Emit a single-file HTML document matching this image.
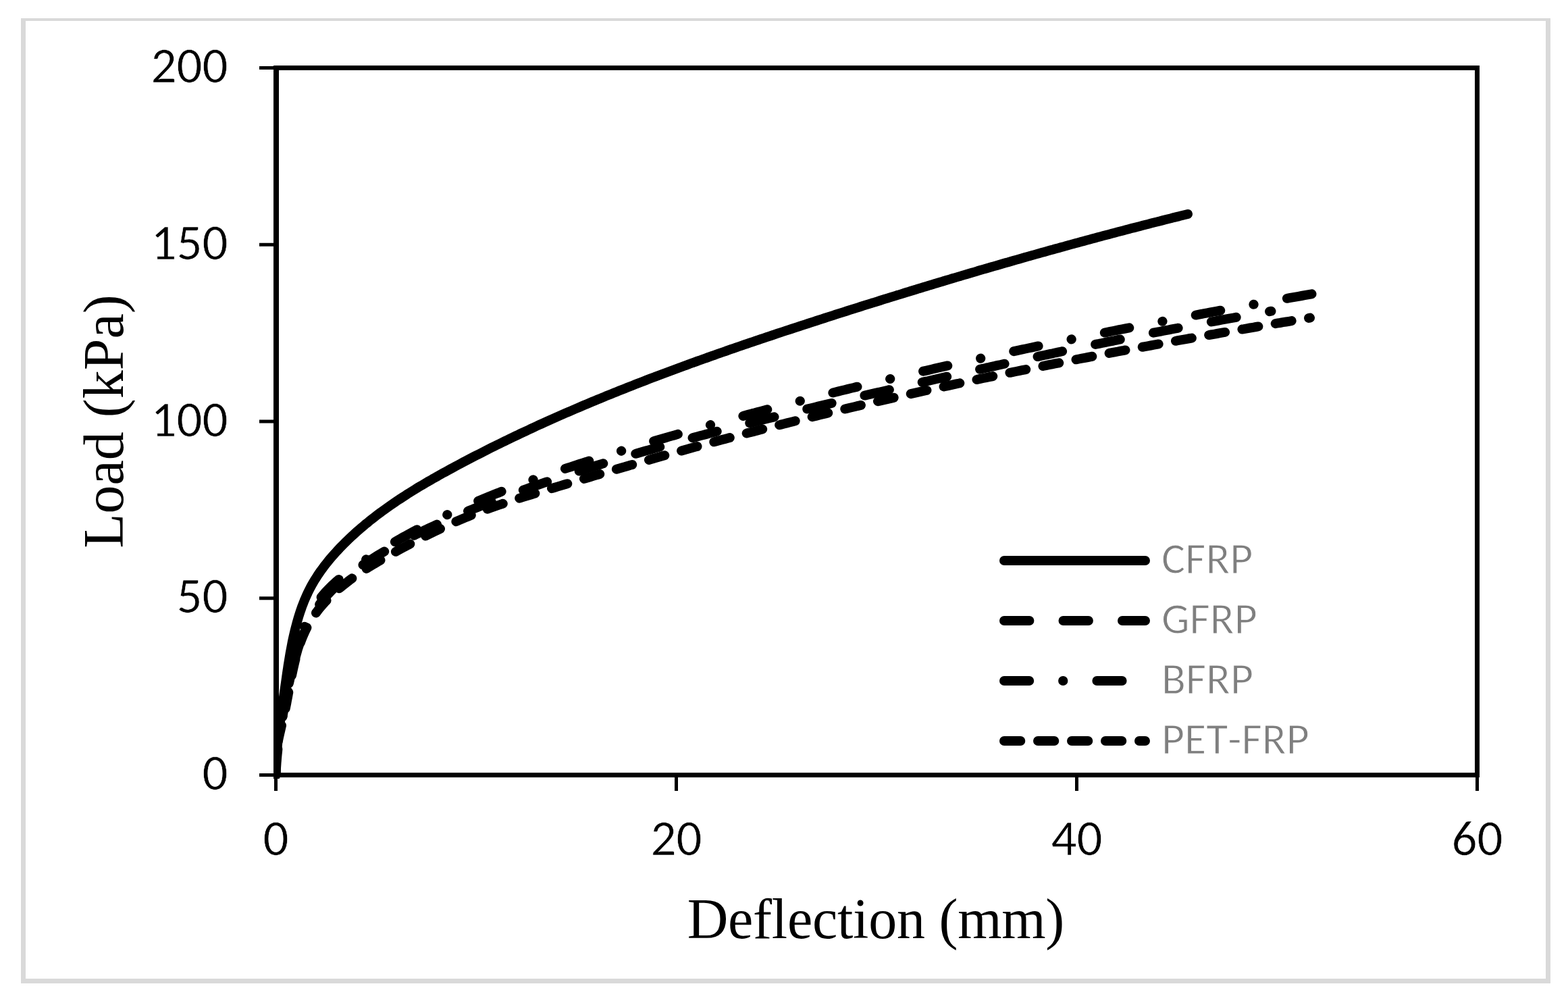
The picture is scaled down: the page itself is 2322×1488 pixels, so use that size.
<!DOCTYPE html>
<html><head><meta charset="utf-8"><title>Load vs Deflection</title>
<style>
html,body{margin:0;padding:0;background:#fff;}
body{width:2322px;height:1488px;overflow:hidden;}
svg{display:block;}
.num{font-size-adjust:cap-height 0.6416;stroke:#fff;stroke-width:0.6px;font-kerning:none;font-family:Carlito,Calibri,"Liberation Sans",sans-serif;font-size:75px;fill:#000;}
.leg{font-size-adjust:cap-height 0.6416;stroke:#fff;stroke-width:1px;font-kerning:none;font-family:Carlito,Calibri,"Liberation Sans",sans-serif;font-size:66px;fill:#7f7f7f;}
.ttl{font-family:"Liberation Serif","Times New Roman",serif;font-size:84px;fill:#000;}
.ln{fill:none;stroke:#000;stroke-width:14;stroke-linecap:round;stroke-linejoin:round;}
</style></head><body>
<svg width="2322" height="1488" viewBox="0 0 2322 1488">
<rect x="0" y="0" width="2322" height="1488" fill="#fff"/>
<!-- outer chart border -->
<g fill="#d9d9d9">
<rect x="31" y="27" width="7" height="1429"/>
<rect x="2289" y="27" width="7" height="1429"/>
<rect x="31" y="27" width="2265" height="4"/>
<rect x="31" y="1449" width="2265" height="7"/>
</g>
<!-- plot frame -->
<g fill="#000">
<rect x="405" y="97" width="8" height="1054"/>
<rect x="2184" y="97" width="7" height="1054"/>
<rect x="405" y="97" width="1786" height="7"/>
<rect x="405" y="1144" width="1786" height="7"/>
<rect x="384" y="98" width="22" height="5"/>
<rect x="384" y="359.75" width="22" height="5"/>
<rect x="384" y="621.5" width="22" height="5"/>
<rect x="384" y="883.25" width="22" height="5"/>
<rect x="384" y="1145" width="22" height="5"/>
<rect x="406" y="1150" width="5" height="21"/>
<rect x="999" y="1150" width="5" height="21"/>
<rect x="1592" y="1150" width="5" height="21"/>
<rect x="2185" y="1150" width="5" height="21"/>
</g>
<g class="num" text-anchor="end">
<text x="337.5" y="122.2" textLength="114.05" lengthAdjust="spacingAndGlyphs">200</text>
<text x="337.5" y="383.95" textLength="114.05" lengthAdjust="spacingAndGlyphs">150</text>
<text x="337.5" y="645.7" textLength="114.05" lengthAdjust="spacingAndGlyphs">100</text>
<text x="337.5" y="907.45" textLength="76.03" lengthAdjust="spacingAndGlyphs">50</text>
<text x="337.5" y="1169.2" textLength="38.02" lengthAdjust="spacingAndGlyphs">0</text>
</g>
<g class="num" text-anchor="middle">
<text x="408.5" y="1265.5" textLength="38.02" lengthAdjust="spacingAndGlyphs">0</text>
<text x="1001.5" y="1265.5" textLength="76.03" lengthAdjust="spacingAndGlyphs">20</text>
<text x="1594.5" y="1265.5" textLength="76.03" lengthAdjust="spacingAndGlyphs">40</text>
<text x="2187.5" y="1265.5" textLength="76.03" lengthAdjust="spacingAndGlyphs">60</text>
</g>
<text class="ttl" x="1296.85" y="1388.9" text-anchor="middle" letter-spacing="-0.25">Deflection (mm)</text>
<text class="ttl" transform="translate(182.2 624) rotate(-90)" text-anchor="middle">Load (kPa)</text>
<!-- curves -->
<defs><clipPath id="pa"><rect x="405" y="97" width="1786" height="1056"/></clipPath></defs>
<g clip-path="url(#pa)">
<path class="ln" d="M408.5 1147.5 L408.1 1142.8 407.9 1138.1 407.8 1133.5 407.9 1128.9 408.1 1124.4 408.5 1119.9 408.9 1115.4 409.5 1111.0 410.1 1106.6 410.9 1102.3 411.7 1097.9 412.6 1093.6 413.5 1089.3 414.5 1085.0 415.5 1080.7 416.5 1076.3 417.5 1072.0 418.6 1067.7 419.6 1063.3 420.6 1058.9 421.5 1054.5 422.5 1050.0 423.4 1045.6 424.3 1041.1 425.1 1036.6 426.0 1032.1 426.8 1027.5 427.7 1023.0 428.5 1018.5 429.4 1013.9 430.2 1009.4 431.1 1004.9 432.0 1000.3 432.9 995.8 433.9 991.3 434.9 986.8 435.9 982.4 437.0 977.9 438.1 973.5 439.3 969.2 440.6 964.8 441.9 960.5 443.2 956.3 444.7 952.0 446.2 947.9 447.8 943.7 449.5 939.7 451.3 935.6 453.2 931.7 455.2 927.8 457.2 924.0 459.4 920.2 461.7 916.5 464.1 912.9 466.6 909.3 469.2 905.8 471.9 902.3 474.6 898.9 477.5 895.6 480.4 892.3 483.4 889.1 486.5 885.9 489.7 882.7 492.9 879.7 496.2 876.6 499.5 873.7 503.0 870.7 506.5 867.8 510.0 865.0 513.6 862.2 517.2 859.4 520.9 856.7 524.6 854.0 528.4 851.4 532.2 848.8 536.1 846.2 540.0 843.7 543.9 841.2 547.8 838.7 551.8 836.3 555.8 833.9 559.8 831.5 563.8 829.2 567.9 826.9 571.9 824.6 576.0 822.3 580.0 820.0 584.1 817.8 588.1 815.6 592.2 813.4 596.3 811.2 600.3 809.1 604.3 806.9 608.4 804.8 612.4 802.7 616.4 800.6 620.4 798.5 624.4 796.5 628.4 794.5 632.4 792.4 636.4 790.5 640.4 788.5 644.4 786.5 648.4 784.6 652.4 782.7 656.5 780.8 660.5 778.9 664.5 777.1 668.6 775.2 672.6 773.4 676.7 771.6 680.8 769.9 684.9 768.1 689.0 766.4 693.1 764.7 697.2 763.1 701.4 761.4 705.6 759.8 709.8 758.2 714.0 756.6 718.2 755.1 722.4 753.5 726.6 752.0 730.9 750.5 735.1 749.0 739.4 747.5 743.7 746.1 748.0 744.6 752.3 743.2 756.6 741.8 760.9 740.4 765.2 739.0 769.5 737.6 773.9 736.2 778.2 734.9 782.5 733.5 786.9 732.2 791.2 730.9 795.6 729.5 799.9 728.2 804.3 726.9 808.6 725.6 813.0 724.3 817.4 723.0 821.7 721.7 826.1 720.4 830.4 719.1 834.8 717.8 839.1 716.5 843.5 715.2 847.8 713.9 852.2 712.6 856.5 711.3 860.8 710.1 865.2 708.8 869.5 707.5 873.9 706.2 878.2 704.9 882.5 703.6 886.9 702.4 891.2 701.1 895.5 699.8 899.9 698.5 904.2 697.3 908.5 696.0 912.9 694.7 917.2 693.5 921.5 692.2 925.9 691.0 930.2 689.7 934.5 688.4 938.9 687.2 943.2 685.9 947.5 684.7 951.9 683.5 956.2 682.2 960.5 681.0 964.9 679.8 969.2 678.5 973.6 677.3 977.9 676.1 982.2 674.8 986.6 673.6 990.9 672.4 995.3 671.2 999.6 670.0 1004.0 668.8 1008.3 667.6 1012.6 666.4 1017.0 665.2 1021.3 664.0 1025.7 662.8 1030.0 661.6 1034.4 660.4 1038.7 659.3 1043.1 658.1 1047.5 656.9 1051.8 655.7 1056.2 654.6 1060.5 653.4 1064.9 652.3 1069.2 651.1 1073.6 649.9 1078.0 648.8 1082.3 647.6 1086.7 646.5 1091.1 645.4 1095.4 644.2 1099.8 643.1 1104.2 641.9 1108.5 640.8 1112.9 639.7 1117.3 638.6 1121.6 637.4 1126.0 636.3 1130.4 635.2 1134.7 634.1 1139.1 633.0 1143.5 631.9 1147.9 630.8 1152.2 629.7 1156.6 628.6 1161.0 627.5 1165.4 626.4 1169.8 625.3 1174.1 624.2 1178.5 623.1 1182.9 622.0 1187.3 620.9 1191.7 619.9 1196.0 618.8 1200.4 617.7 1204.8 616.7 1209.2 615.6 1213.6 614.5 1218.0 613.5 1222.4 612.4 1226.8 611.3 1231.1 610.3 1235.5 609.2 1239.9 608.2 1244.3 607.2 1248.7 606.1 1253.1 605.1 1257.5 604.0 1261.9 603.0 1266.3 602.0 1270.7 600.9 1275.1 599.9 1279.5 598.9 1283.9 597.9 1288.3 596.9 1292.7 595.8 1297.1 594.8 1301.5 593.8 1305.9 592.8 1310.3 591.8 1314.7 590.8 1319.1 589.8 1323.5 588.8 1327.9 587.8 1332.3 586.8 1336.7 585.8 1341.1 584.8 1345.5 583.9 1349.9 582.9 1354.4 581.9 1358.8 580.9 1363.2 579.9 1367.6 579.0 1372.0 578.0 1376.4 577.0 1380.8 576.1 1385.2 575.1 1389.7 574.1 1394.1 573.2 1398.5 572.2 1402.9 571.3 1407.3 570.3 1411.7 569.4 1416.1 568.4 1420.6 567.5 1425.0 566.5 1429.4 565.6 1433.8 564.7 1438.2 563.7 1442.7 562.8 1447.1 561.9 1451.5 560.9 1455.9 560.0 1460.4 559.1 1464.8 558.2 1469.2 557.3 1473.6 556.3 1478.0 555.4 1482.5 554.5 1486.9 553.6 1491.3 552.7 1495.7 551.8 1500.2 550.9 1504.6 550.0 1509.0 549.1 1513.5 548.2 1517.9 547.3 1522.3 546.4 1526.7 545.5 1531.2 544.6 1535.6 543.7 1540.0 542.8 1544.5 542.0 1548.9 541.1 1553.3 540.2 1557.8 539.3 1562.2 538.4 1566.6 537.6 1571.1 536.7 1575.5 535.8 1579.9 535.0 1584.4 534.1 1588.8 533.2 1593.2 532.4 1597.7 531.5 1602.1 530.7 1606.6 529.8 1611.0 529.0 1615.4 528.1 1619.9 527.3 1624.3 526.4 1628.7 525.6 1633.2 524.7 1637.6 523.9 1642.1 523.0 1646.5 522.2 1650.9 521.4 1655.4 520.5 1659.8 519.7 1664.3 518.9 1668.7 518.0 1673.1 517.2 1677.6 516.4 1682.0 515.6 1686.5 514.7 1690.9 513.9 1695.4 513.1 1699.8 512.3 1704.2 511.5 1708.7 510.7 1713.1 509.9 1717.6 509.0 1722.0 508.2 1726.5 507.4 1730.9 506.6 1735.4 505.8 1739.8 505.0 1744.2 504.2 1748.7 503.4 1753.1 502.6 1757.6 501.8 1762.0 501.0 1766.5 500.3 1770.9 499.5 1775.4 498.7 1779.8 497.9 1784.3 497.1 1788.7 496.3 1793.2 495.5 1797.6 494.8 1802.1 494.0 1806.5 493.2 1810.9 492.4 1815.4 491.7 1819.8 490.9 1824.3 490.1 1828.7 489.3 1833.2 488.6 1837.6 487.8 1842.1 487.1 1846.5 486.3 1851.0 485.5 1855.4 484.8 1859.9 484.0 1864.3 483.3 1868.8 482.5 1873.2 481.7 1877.7 481.0 1882.1 480.2 1886.6 479.5 1891.0 478.7 1895.5 478.0 1899.9 477.2 1904.4 476.5 1908.8 475.8 1913.3 475.0 1917.7 474.3 1922.2 473.5 1926.6 472.8 1931.1 472.1 1935.5 471.3 1940.0 470.6" stroke-dasharray="24.3 25.7" stroke-dashoffset="0"/>
<path class="ln" d="M408.5 1147.5 L408.7 1143.1 408.9 1138.6 409.2 1134.2 409.5 1129.8 409.8 1125.4 410.2 1121.1 410.6 1116.7 411.1 1112.3 411.5 1108.0 412.0 1103.7 412.6 1099.3 413.1 1095.0 413.7 1090.7 414.3 1086.4 415.0 1082.1 415.6 1077.8 416.3 1073.5 417.0 1069.2 417.8 1064.9 418.5 1060.6 419.3 1056.3 420.1 1052.0 420.9 1047.7 421.8 1043.4 422.6 1039.1 423.5 1034.8 424.4 1030.5 425.3 1026.2 426.2 1021.9 427.1 1017.6 428.0 1013.2 429.0 1008.9 430.0 1004.5 430.9 1000.2 431.9 995.8 432.9 991.5 434.0 987.1 435.0 982.8 436.1 978.4 437.3 974.1 438.5 969.8 439.7 965.5 440.9 961.3 442.3 957.1 443.6 952.8 445.1 948.7 446.6 944.5 448.1 940.4 449.7 936.4 451.4 932.4 453.2 928.4 455.1 924.5 457.0 920.6 459.0 916.8 461.1 913.1 463.3 909.4 465.6 905.8 468.0 902.2 470.4 898.7 473.0 895.2 475.6 891.8 478.3 888.5 481.1 885.2 483.9 882.0 486.8 878.8 489.8 875.7 492.8 872.6 495.9 869.5 499.1 866.6 502.3 863.6 505.6 860.7 508.9 857.9 512.3 855.1 515.7 852.3 519.2 849.6 522.7 846.9 526.3 844.2 529.9 841.6 533.5 839.1 537.2 836.5 540.9 834.0 544.6 831.6 548.4 829.2 552.2 826.8 556.0 824.4 559.8 822.1 563.7 819.8 567.5 817.5 571.4 815.2 575.3 813.0 579.2 810.8 583.1 808.6 587.0 806.5 590.9 804.4 594.9 802.3 598.8 800.2 602.7 798.1 606.7 796.1 610.6 794.1 614.6 792.1 618.5 790.1 622.5 788.2 626.5 786.3 630.4 784.3 634.4 782.5 638.4 780.6 642.4 778.7 646.4 776.9 650.4 775.1 654.4 773.3 658.4 771.5 662.4 769.7 666.5 768.0 670.5 766.2 674.5 764.5 678.5 762.8 682.6 761.1 686.6 759.4 690.7 757.7 694.7 756.1 698.8 754.4 702.8 752.8 706.9 751.2 711.0 749.6 715.0 748.0 719.1 746.4 723.2 744.8 727.3 743.2 731.4 741.7 735.4 740.1 739.5 738.6 743.6 737.1 747.7 735.5 751.8 734.0 755.9 732.5 760.0 731.0 764.2 729.5 768.3 728.0 772.4 726.5 776.5 725.0 780.6 723.6 784.7 722.1 788.9 720.6 793.0 719.2 797.1 717.8 801.3 716.3 805.4 714.9 809.6 713.5 813.7 712.1 817.8 710.6 822.0 709.2 826.1 707.8 830.3 706.5 834.5 705.1 838.6 703.7 842.8 702.3 846.9 701.0 851.1 699.6 855.3 698.3 859.5 696.9 863.6 695.6 867.8 694.2 872.0 692.9 876.2 691.6 880.4 690.3 884.5 689.0 888.7 687.7 892.9 686.4 897.1 685.1 901.3 683.8 905.5 682.5 909.7 681.2 913.9 680.0 918.1 678.7 922.3 677.5 926.5 676.2 930.7 675.0 934.9 673.7 939.2 672.5 943.4 671.2 947.6 670.0 951.8 668.8 956.0 667.6 960.3 666.4 964.5 665.2 968.7 664.0 972.9 662.8 977.2 661.6 981.4 660.4 985.6 659.2 989.9 658.0 994.1 656.8 998.3 655.7 1002.6 654.5 1006.8 653.3 1011.1 652.2 1015.3 651.0 1019.6 649.9 1023.8 648.7 1028.1 647.6 1032.3 646.5 1036.6 645.3 1040.8 644.2 1045.1 643.1 1049.3 642.0 1053.6 640.8 1057.8 639.7 1062.1 638.6 1066.4 637.5 1070.6 636.4 1074.9 635.3 1079.1 634.2 1083.4 633.1 1087.7 632.0 1091.9 630.9 1096.2 629.9 1100.5 628.8 1104.7 627.7 1109.0 626.6 1113.3 625.6 1117.6 624.5 1121.8 623.4 1126.1 622.4 1130.4 621.3 1134.7 620.2 1138.9 619.2 1143.2 618.1 1147.5 617.1 1151.8 616.0 1156.0 615.0 1160.3 614.0 1164.6 612.9 1168.9 611.9 1173.2 610.9 1177.5 609.8 1181.7 608.8 1186.0 607.8 1190.3 606.7 1194.6 605.7 1198.9 604.7 1203.2 603.7 1207.4 602.7 1211.7 601.6 1216.0 600.6 1220.3 599.6 1224.6 598.6 1228.9 597.6 1233.2 596.6 1237.4 595.6 1241.7 594.6 1246.0 593.6 1250.3 592.6 1254.6 591.6 1258.9 590.6 1263.2 589.6 1267.5 588.6 1271.7 587.6 1276.0 586.6 1280.3 585.6 1284.6 584.6 1288.9 583.6 1293.2 582.6 1297.5 581.6 1301.8 580.7 1306.0 579.7 1310.3 578.7 1314.6 577.7 1318.9 576.7 1323.2 575.7 1327.5 574.7 1331.7 573.7 1336.0 572.8 1340.3 571.8 1344.6 570.8 1348.9 569.8 1353.2 568.8 1357.5 567.9 1361.7 566.9 1366.0 565.9 1370.3 564.9 1374.6 564.0 1378.9 563.0 1383.2 562.0 1387.4 561.0 1391.7 560.1 1396.0 559.1 1400.3 558.1 1404.6 557.2 1408.9 556.2 1413.1 555.2 1417.4 554.3 1421.7 553.3 1426.0 552.4 1430.3 551.4 1434.6 550.4 1438.9 549.5 1443.1 548.5 1447.4 547.6 1451.7 546.6 1456.0 545.7 1460.3 544.7 1464.6 543.8 1468.8 542.8 1473.1 541.9 1477.4 540.9 1481.7 540.0 1486.0 539.0 1490.3 538.1 1494.6 537.2 1498.8 536.2 1503.1 535.3 1507.4 534.4 1511.7 533.4 1516.0 532.5 1520.3 531.6 1524.6 530.6 1528.9 529.7 1533.2 528.8 1537.4 527.9 1541.7 526.9 1546.0 526.0 1550.3 525.1 1554.6 524.2 1558.9 523.3 1563.2 522.3 1567.5 521.4 1571.8 520.5 1576.1 519.6 1580.4 518.7 1584.6 517.8 1588.9 516.9 1593.2 516.0 1597.5 515.1 1601.8 514.2 1606.1 513.3 1610.4 512.4 1614.7 511.5 1619.0 510.6 1623.3 509.7 1627.6 508.9 1631.9 508.0 1636.2 507.1 1640.5 506.2 1644.8 505.3 1649.1 504.5 1653.4 503.6 1657.7 502.7 1662.0 501.9 1666.3 501.0 1670.6 500.1 1674.9 499.3 1679.2 498.4 1683.5 497.5 1687.8 496.7 1692.2 495.8 1696.5 495.0 1700.8 494.1 1705.1 493.3 1709.4 492.4 1713.7 491.6 1718.0 490.8 1722.3 489.9 1726.6 489.1 1731.0 488.3 1735.3 487.4 1739.6 486.6 1743.9 485.8 1748.2 484.9 1752.5 484.1 1756.9 483.3 1761.2 482.5 1765.5 481.7 1769.8 480.9 1774.1 480.1 1778.5 479.3 1782.8 478.5 1787.1 477.7 1791.4 476.9 1795.8 476.1 1800.1 475.3 1804.4 474.5 1808.8 473.7 1813.1 472.9 1817.4 472.1 1821.7 471.3 1826.1 470.6 1830.4 469.8 1834.8 469.0 1839.1 468.3 1843.4 467.5 1847.8 466.7 1852.1 466.0 1856.4 465.2 1860.8 464.5 1865.1 463.7 1869.5 463.0 1873.8 462.2 1878.2 461.5 1882.5 460.7" stroke-dasharray="37.4 50.1" stroke-dashoffset="-1"/>
<path class="ln" d="M408.5 1147.5 L408.3 1142.9 408.1 1138.3 408.2 1133.7 408.3 1129.1 408.6 1124.6 408.9 1120.0 409.4 1115.5 409.9 1110.9 410.5 1106.4 411.2 1101.9 411.9 1097.4 412.7 1092.8 413.5 1088.3 414.3 1083.8 415.2 1079.3 416.0 1074.9 416.9 1070.4 417.7 1065.9 418.5 1061.4 419.4 1056.9 420.2 1052.4 421.0 1048.0 421.8 1043.5 422.7 1039.0 423.5 1034.6 424.3 1030.1 425.2 1025.6 426.1 1021.2 426.9 1016.7 427.8 1012.2 428.8 1007.8 429.7 1003.3 430.7 998.9 431.6 994.4 432.7 989.9 433.7 985.5 434.8 981.0 435.9 976.5 437.0 972.1 438.2 967.6 439.4 963.1 440.7 958.7 442.0 954.2 443.4 949.7 444.8 945.3 446.3 940.8 447.8 936.4 449.4 932.1 451.1 927.7 452.8 923.4 454.7 919.2 456.6 915.0 458.6 910.9 460.8 906.8 463.0 902.8 465.3 898.9 467.8 895.1 470.3 891.4 473.0 887.7 475.7 884.2 478.6 880.7 481.5 877.3 484.6 874.0 487.7 870.8 490.9 867.6 494.2 864.5 497.6 861.4 501.0 858.5 504.5 855.5 508.0 852.7 511.6 849.8 515.2 847.0 518.9 844.3 522.7 841.6 526.4 839.0 530.2 836.3 534.0 833.8 537.9 831.2 541.7 828.7 545.6 826.2 549.4 823.7 553.3 821.2 557.2 818.8 561.1 816.4 565.0 814.0 569.0 811.6 572.9 809.2 576.8 806.9 580.8 804.6 584.8 802.3 588.7 800.0 592.7 797.7 596.7 795.5 600.7 793.3 604.7 791.1 608.8 788.9 612.8 786.8 616.8 784.6 620.9 782.5 624.9 780.4 629.0 778.3 633.1 776.3 637.2 774.2 641.3 772.2 645.4 770.2 649.5 768.2 653.6 766.2 657.7 764.2 661.8 762.3 666.0 760.4 670.1 758.5 674.3 756.6 678.4 754.7 682.6 752.8 686.8 751.0 691.0 749.1 695.1 747.3 699.3 745.5 703.5 743.7 707.8 741.9 712.0 740.2 716.2 738.4 720.4 736.7 724.6 734.9 728.9 733.2 733.1 731.5 737.4 729.9 741.6 728.2 745.9 726.5 750.2 724.9 754.4 723.2 758.7 721.6 763.0 720.0 767.3 718.4 771.6 716.8 775.9 715.2 780.2 713.7 784.5 712.1 788.8 710.6 793.1 709.0 797.4 707.5 801.7 706.0 806.1 704.5 810.4 703.0 814.7 701.5 819.1 700.0 823.4 698.5 827.7 697.0 832.1 695.6 836.4 694.1 840.8 692.7 845.1 691.3 849.5 689.8 853.9 688.4 858.2 687.0 862.6 685.6 867.0 684.2 871.3 682.8 875.7 681.4 880.1 680.0 884.4 678.7 888.8 677.3 893.2 675.9 897.6 674.6 902.0 673.2 906.3 671.9 910.7 670.5 915.1 669.2 919.5 667.8 923.9 666.5 928.3 665.2 932.7 663.8 937.1 662.5 941.4 661.2 945.8 659.9 950.2 658.6 954.6 657.2 959.0 655.9 963.4 654.6 967.8 653.3 972.2 652.0 976.6 650.8 981.0 649.5 985.4 648.2 989.8 646.9 994.2 645.6 998.6 644.4 1003.0 643.1 1007.4 641.8 1011.8 640.6 1016.2 639.3 1020.6 638.0 1025.0 636.8 1029.4 635.5 1033.9 634.3 1038.3 633.0 1042.7 631.8 1047.1 630.6 1051.5 629.3 1055.9 628.1 1060.3 626.9 1064.7 625.7 1069.1 624.4 1073.6 623.2 1078.0 622.0 1082.4 620.8 1086.8 619.6 1091.2 618.4 1095.6 617.2 1100.1 616.0 1104.5 614.8 1108.9 613.6 1113.3 612.4 1117.8 611.3 1122.2 610.1 1126.6 608.9 1131.0 607.7 1135.4 606.6 1139.9 605.4 1144.3 604.2 1148.7 603.1 1153.2 601.9 1157.6 600.8 1162.0 599.6 1166.4 598.5 1170.9 597.3 1175.3 596.2 1179.7 595.0 1184.2 593.9 1188.6 592.8 1193.0 591.6 1197.5 590.5 1201.9 589.4 1206.4 588.3 1210.8 587.1 1215.2 586.0 1219.7 584.9 1224.1 583.8 1228.5 582.7 1233.0 581.6 1237.4 580.5 1241.9 579.4 1246.3 578.3 1250.8 577.2 1255.2 576.1 1259.6 575.0 1264.1 574.0 1268.5 572.9 1273.0 571.8 1277.4 570.7 1281.9 569.7 1286.3 568.6 1290.8 567.5 1295.2 566.5 1299.7 565.4 1304.1 564.3 1308.6 563.3 1313.0 562.2 1317.5 561.2 1321.9 560.1 1326.4 559.1 1330.8 558.0 1335.3 557.0 1339.8 556.0 1344.2 554.9 1348.7 553.9 1353.1 552.9 1357.6 551.8 1362.0 550.8 1366.5 549.8 1371.0 548.8 1375.4 547.8 1379.9 546.7 1384.3 545.7 1388.8 544.7 1393.3 543.7 1397.7 542.7 1402.2 541.7 1406.7 540.7 1411.1 539.7 1415.6 538.7 1420.1 537.7 1424.5 536.7 1429.0 535.7 1433.5 534.8 1437.9 533.8 1442.4 532.8 1446.9 531.8 1451.3 530.8 1455.8 529.9 1460.3 528.9 1464.7 527.9 1469.2 527.0 1473.7 526.0 1478.2 525.0 1482.6 524.1 1487.1 523.1 1491.6 522.2 1496.1 521.2 1500.5 520.3 1505.0 519.3 1509.5 518.4 1514.0 517.4 1518.4 516.5 1522.9 515.5 1527.4 514.6 1531.9 513.7 1536.4 512.7 1540.8 511.8 1545.3 510.9 1549.8 509.9 1554.3 509.0 1558.8 508.1 1563.2 507.2 1567.7 506.2 1572.2 505.3 1576.7 504.4 1581.2 503.5 1585.6 502.6 1590.1 501.7 1594.6 500.8 1599.1 499.8 1603.6 498.9 1608.1 498.0 1612.6 497.1 1617.0 496.2 1621.5 495.3 1626.0 494.4 1630.5 493.6 1635.0 492.7 1639.5 491.8 1644.0 490.9 1648.5 490.0 1653.0 489.1 1657.4 488.2 1661.9 487.3 1666.4 486.5 1670.9 485.6 1675.4 484.7 1679.9 483.8 1684.4 483.0 1688.9 482.1 1693.4 481.2 1697.9 480.4 1702.4 479.5 1706.9 478.6 1711.4 477.8 1715.9 476.9 1720.4 476.0 1724.8 475.2 1729.3 474.3 1733.8 473.5 1738.3 472.6 1742.8 471.8 1747.3 470.9 1751.8 470.1 1756.3 469.2 1760.8 468.4 1765.3 467.5 1769.8 466.7 1774.3 465.8 1778.8 465.0 1783.3 464.2 1787.8 463.3 1792.3 462.5 1796.8 461.7 1801.3 460.8 1805.8 460.0 1810.3 459.2 1814.8 458.3 1819.3 457.5 1823.8 456.7 1828.3 455.9 1832.8 455.0 1837.3 454.2 1841.9 453.4 1846.4 452.6 1850.9 451.7 1855.4 450.9 1859.9 450.1 1864.4 449.3 1868.9 448.5 1873.4 447.7 1877.9 446.9 1882.4 446.0 1886.9 445.2 1891.4 444.4 1895.9 443.6 1900.4 442.8 1904.9 442.0 1909.4 441.2 1913.9 440.4 1918.5 439.6 1923.0 438.8 1927.5 438.0 1932.0 437.2 1936.5 436.4 1941.0 435.6 1945.5 434.8" stroke-dasharray="37.2 49.9 0.3 50" stroke-dashoffset="0"/>
<path class="ln" d="M408.5 1147.5 L408.5 1143.2 408.6 1138.9 408.8 1134.6 408.9 1130.3 409.2 1126.0 409.4 1121.7 409.7 1117.4 410.0 1113.1 410.4 1108.8 410.8 1104.6 411.2 1100.3 411.6 1096.0 412.1 1091.8 412.6 1087.5 413.1 1083.3 413.6 1079.0 414.2 1074.8 414.7 1070.5 415.3 1066.2 415.9 1062.0 416.4 1057.7 417.0 1053.5 417.6 1049.2 418.2 1045.0 418.8 1040.7 419.4 1036.4 420.0 1032.2 420.6 1027.9 421.2 1023.6 421.8 1019.3 422.4 1015.0 423.0 1010.7 423.6 1006.5 424.2 1002.2 424.8 997.9 425.4 993.6 426.1 989.3 426.7 985.1 427.4 980.8 428.1 976.5 428.8 972.3 429.5 968.0 430.3 963.7 431.1 959.5 431.9 955.3 432.7 951.0 433.6 946.8 434.5 942.6 435.5 938.4 436.5 934.2 437.5 930.1 438.6 925.9 439.7 921.8 440.9 917.6 442.1 913.5 443.4 909.4 444.7 905.4 446.1 901.4 447.5 897.3 449.1 893.4 450.6 889.4 452.3 885.5 454.0 881.6 455.8 877.7 457.7 873.9 459.6 870.1 461.6 866.4 463.7 862.7 465.9 859.0 468.2 855.4 470.5 851.8 472.9 848.3 475.3 844.8 477.9 841.3 480.4 837.9 483.1 834.5 485.8 831.1 488.5 827.8 491.3 824.5 494.1 821.3 497.0 818.1 500.0 814.9 502.9 811.7 505.9 808.6 508.9 805.6 512.0 802.5 515.1 799.5 518.2 796.5 521.3 793.6 524.5 790.7 527.7 787.8 530.9 785.0 534.2 782.2 537.4 779.4 540.7 776.6 544.1 773.9 547.4 771.2 550.8 768.5 554.1 765.9 557.5 763.3 561.0 760.7 564.4 758.1 567.9 755.6 571.4 753.1 574.9 750.6 578.4 748.1 581.9 745.7 585.5 743.2 589.1 740.8 592.7 738.5 596.3 736.1 599.9 733.8 603.5 731.4 607.2 729.1 610.8 726.9 614.5 724.6 618.2 722.3 621.9 720.1 625.6 717.9 629.3 715.7 633.0 713.5 636.8 711.4 640.5 709.2 644.3 707.1 648.1 705.0 651.8 702.8 655.6 700.7 659.4 698.7 663.2 696.6 667.0 694.5 670.8 692.5 674.6 690.4 678.4 688.4 682.2 686.3 686.0 684.3 689.9 682.3 693.7 680.3 697.5 678.3 701.3 676.3 705.2 674.3 709.0 672.4 712.9 670.4 716.7 668.5 720.6 666.5 724.4 664.6 728.3 662.6 732.1 660.7 736.0 658.8 739.8 656.9 743.7 655.0 747.6 653.1 751.5 651.2 755.3 649.4 759.2 647.5 763.1 645.6 767.0 643.8 770.9 641.9 774.8 640.1 778.7 638.3 782.6 636.5 786.5 634.6 790.4 632.8 794.3 631.0 798.2 629.2 802.1 627.5 806.1 625.7 810.0 623.9 813.9 622.1 817.8 620.4 821.8 618.6 825.7 616.9 829.6 615.2 833.6 613.4 837.5 611.7 841.5 610.0 845.4 608.3 849.3 606.6 853.3 604.9 857.3 603.2 861.2 601.5 865.2 599.8 869.1 598.2 873.1 596.5 877.1 594.8 881.0 593.2 885.0 591.5 889.0 589.9 893.0 588.3 896.9 586.6 900.9 585.0 904.9 583.4 908.9 581.8 912.9 580.2 916.9 578.6 920.9 577.0 924.9 575.4 928.9 573.8 932.9 572.2 936.9 570.7 940.9 569.1 944.9 567.5 948.9 566.0 952.9 564.4 956.9 562.9 960.9 561.3 964.9 559.8 969.0 558.3 973.0 556.7 977.0 555.2 981.0 553.7 985.1 552.2 989.1 550.7 993.1 549.2 997.2 547.7 1001.2 546.2 1005.2 544.7 1009.3 543.2 1013.3 541.7 1017.3 540.3 1021.4 538.8 1025.4 537.3 1029.5 535.9 1033.5 534.4 1037.6 533.0 1041.6 531.5 1045.7 530.1 1049.7 528.6 1053.8 527.2 1057.8 525.8 1061.9 524.3 1066.0 522.9 1070.0 521.5 1074.1 520.1 1078.1 518.6 1082.2 517.2 1086.3 515.8 1090.4 514.4 1094.4 513.0 1098.5 511.6 1102.6 510.2 1106.6 508.8 1110.7 507.4 1114.8 506.1 1118.9 504.7 1122.9 503.3 1127.0 501.9 1131.1 500.6 1135.2 499.2 1139.3 497.8 1143.3 496.5 1147.4 495.1 1151.5 493.7 1155.6 492.4 1159.7 491.0 1163.8 489.7 1167.9 488.3 1172.0 487.0 1176.1 485.6 1180.1 484.3 1184.2 483.0 1188.3 481.6 1192.4 480.3 1196.5 479.0 1200.6 477.6 1204.7 476.3 1208.8 475.0 1212.9 473.6 1217.0 472.3 1221.1 471.0 1225.2 469.7 1229.3 468.4 1233.4 467.1 1237.5 465.7 1241.6 464.4 1245.7 463.1 1249.8 461.8 1253.9 460.5 1258.0 459.2 1262.1 457.9 1266.2 456.6 1270.3 455.3 1274.4 454.0 1278.5 452.7 1282.6 451.4 1286.8 450.1 1290.9 448.8 1295.0 447.6 1299.1 446.3 1303.2 445.0 1307.3 443.7 1311.4 442.4 1315.5 441.2 1319.6 439.9 1323.8 438.6 1327.9 437.3 1332.0 436.1 1336.1 434.8 1340.2 433.5 1344.3 432.3 1348.4 431.0 1352.6 429.7 1356.7 428.5 1360.8 427.2 1364.9 426.0 1369.0 424.7 1373.2 423.5 1377.3 422.2 1381.4 421.0 1385.5 419.7 1389.6 418.5 1393.8 417.3 1397.9 416.0 1402.0 414.8 1406.1 413.6 1410.3 412.3 1414.4 411.1 1418.5 409.9 1422.7 408.7 1426.8 407.4 1430.9 406.2 1435.0 405.0 1439.2 403.8 1443.3 402.6 1447.4 401.3 1451.6 400.1 1455.7 398.9 1459.8 397.7 1464.0 396.5 1468.1 395.3 1472.2 394.1 1476.4 392.9 1480.5 391.7 1484.6 390.5 1488.8 389.3 1492.9 388.2 1497.0 387.0 1501.2 385.8 1505.3 384.6 1509.5 383.4 1513.6 382.3 1517.8 381.1 1521.9 379.9 1526.0 378.7 1530.2 377.6 1534.3 376.4 1538.5 375.2 1542.6 374.1 1546.8 372.9 1550.9 371.8 1555.1 370.6 1559.2 369.5 1563.3 368.3 1567.5 367.2 1571.6 366.0 1575.8 364.9 1579.9 363.7 1584.1 362.6 1588.2 361.4 1592.4 360.3 1596.6 359.2 1600.7 358.1 1604.9 356.9 1609.0 355.8 1613.2 354.7 1617.3 353.6 1621.5 352.4 1625.6 351.3 1629.8 350.2 1634.0 349.1 1638.1 348.0 1642.3 346.9 1646.4 345.8 1650.6 344.7 1654.8 343.6 1658.9 342.5 1663.1 341.4 1667.3 340.3 1671.4 339.2 1675.6 338.1 1679.7 337.1 1683.9 336.0 1688.1 334.9 1692.2 333.8 1696.4 332.7 1700.6 331.7 1704.8 330.6 1708.9 329.5 1713.1 328.5 1717.3 327.4 1721.4 326.4 1725.6 325.3 1729.8 324.2 1734.0 323.2 1738.1 322.1 1742.3 321.1 1746.5 320.1 1750.7 319.0 1754.8 318.0 1759.0 316.9"/>
</g>
<!-- legend -->
<line class="ln" x1="1487" y1="830" x2="1696" y2="830"/>
<line class="ln" x1="1487" y1="919" x2="1696" y2="919" stroke-dasharray="37.4 50.1"/>
<line class="ln" x1="1487" y1="1008" x2="1696" y2="1008" stroke-dasharray="37.2 49.9 0.3 50"/>
<line class="ln" x1="1487" y1="1097" x2="1696" y2="1097" stroke-dasharray="24.3 25.7"/>
<g class="leg">
<text x="1719.9" y="848.7" textLength="135.42" lengthAdjust="spacingAndGlyphs">CFRP</text>
<text x="1719.9" y="937.8" textLength="141.88" lengthAdjust="spacingAndGlyphs">GFRP</text>
<text x="1719.9" y="1026.9" textLength="136.13" lengthAdjust="spacingAndGlyphs">BFRP</text>
<text x="1719.9" y="1116" textLength="218.91" lengthAdjust="spacingAndGlyphs">PET-FRP</text>
</g>
</svg>
</body></html>
